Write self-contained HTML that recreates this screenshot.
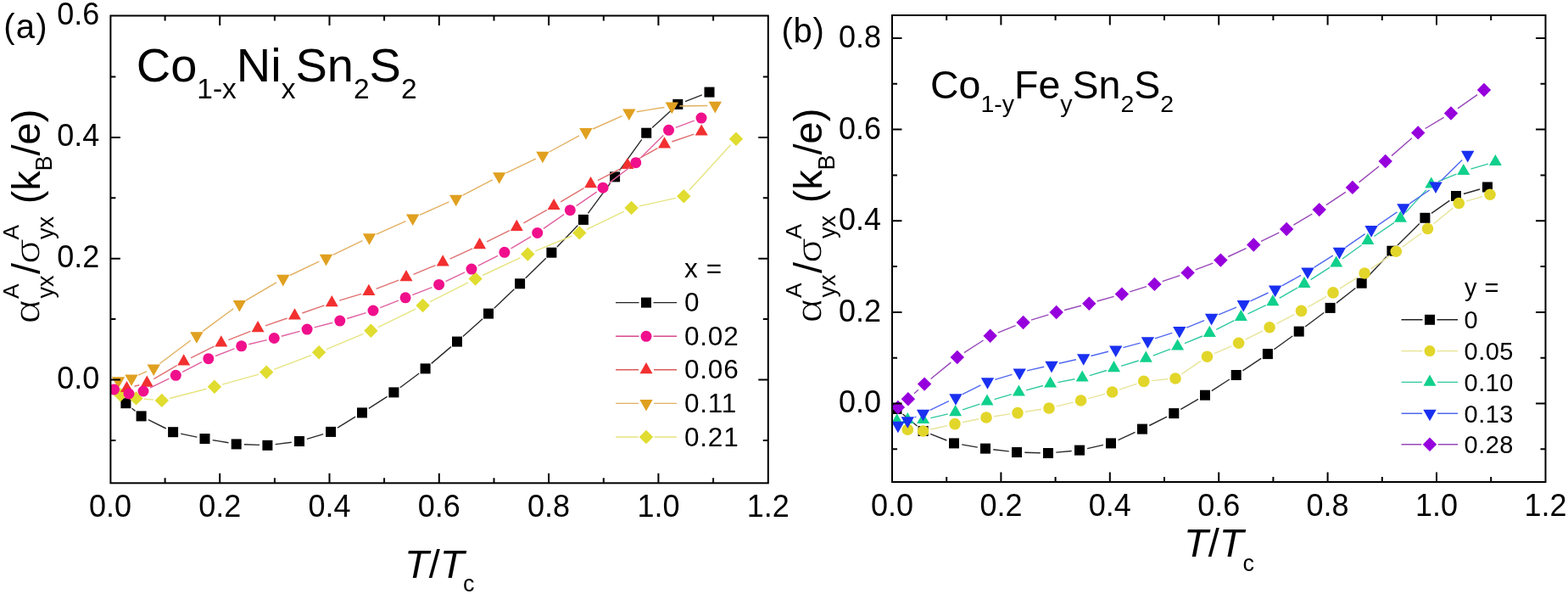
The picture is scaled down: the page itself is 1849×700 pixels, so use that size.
<!DOCTYPE html>
<html><head><meta charset="utf-8"><title>plot</title>
<style>html,body{margin:0;padding:0;background:#fff;}svg{display:block;}text{font-family:'Liberation Sans', Arial, sans-serif;fill:#000;}</style>
</head><body>
<svg width="1849" height="700" viewBox="0 0 1849 700">
<rect width="1849" height="700" fill="#fff"/>
<defs><clipPath id="cl"><rect x="131" y="18.5" width="775" height="550.5"/></clipPath><clipPath id="cr"><rect x="1052.5" y="18" width="770" height="550"/></clipPath></defs>
<g clip-path="url(#cl)">
<path d="M155.5 481.2L159.5 484.4M174.9 494.6L195.8 505M213.2 511.1L232.4 515.1M250.7 518.6L269.5 521.8M288 523.8L306.1 524.4M324.6 523.6L343.8 521.2M361.9 517.3L381.2 511.6M398 504.1L419.1 491.2M434.8 481.4L456.6 467.4M471.8 456.8L494.2 440M508.7 428.4L531.9 408.6M545.9 396.4L569.1 375.8M582.7 363.2L606.4 340.7M619.7 327.8L643.8 304.2M656.9 291L681.4 265.6M693.4 251.4L719.6 215.9M730.5 200.8L756.8 164.3M769.1 150.4L792.4 129.2M808 119.6L827.8 111.9" fill="none" stroke="#2a2a2a" stroke-width="1.4"/>
<rect x="142.4" y="469.2" width="12" height="12" fill="#000000" />
<rect x="160.6" y="484.4" width="12" height="12" fill="#000000" />
<rect x="198.1" y="503.2" width="12" height="12" fill="#000000" />
<rect x="235.5" y="511" width="12" height="12" fill="#000000" />
<rect x="272.7" y="517.4" width="12" height="12" fill="#000000" />
<rect x="309.4" y="518.8" width="12" height="12" fill="#000000" />
<rect x="347" y="514" width="12" height="12" fill="#000000" />
<rect x="384.1" y="502.9" width="12" height="12" fill="#000000" />
<rect x="421" y="480.4" width="12" height="12" fill="#000000" />
<rect x="458.4" y="456.4" width="12" height="12" fill="#000000" />
<rect x="495.6" y="428.4" width="12" height="12" fill="#000000" />
<rect x="533" y="396.6" width="12" height="12" fill="#000000" />
<rect x="570" y="363.6" width="12" height="12" fill="#000000" />
<rect x="607.1" y="328.3" width="12" height="12" fill="#000000" />
<rect x="644.4" y="291.7" width="12" height="12" fill="#000000" />
<rect x="681.9" y="252.9" width="12" height="12" fill="#000000" />
<rect x="719.1" y="202.4" width="12" height="12" fill="#000000" />
<rect x="756.2" y="150.7" width="12" height="12" fill="#000000" />
<rect x="793.3" y="116.9" width="12" height="12" fill="#000000" />
<rect x="830.5" y="102.6" width="12" height="12" fill="#000000" />
<path d="M170 470.2L181.3 471.1M200 469.5L243.7 458.2M262 453.2L305.1 441.2M323.1 435.3L367.2 418.6M384.9 411.6L428.6 393.4M445.9 385.6L490.1 364.1M507.1 355.7L552.1 332.9M569.2 324.5L613.7 303.6M631.1 295.9L674.5 278M691.9 270.3L736 249.1M753.9 242.9L797 233.4M812.7 224.3L861.6 170.7" fill="none" stroke="#e6e480" stroke-width="1.4"/>
<path d="M142 457.1L150.2 465.3L142 473.5L133.8 465.3Z" fill="#e0dc30" />
<path d="M160.5 461.2L168.7 469.4L160.5 477.6L152.3 469.4Z" fill="#e0dc30" />
<path d="M190.8 463.7L199 471.9L190.8 480.1L182.6 471.9Z" fill="#e0dc30" />
<path d="M252.9 447.6L261.1 455.8L252.9 464L244.7 455.8Z" fill="#e0dc30" />
<path d="M314.2 430.4L322.4 438.6L314.2 446.8L306 438.6Z" fill="#e0dc30" />
<path d="M376.1 407.1L384.3 415.3L376.1 423.5L367.9 415.3Z" fill="#e0dc30" />
<path d="M437.4 381.5L445.6 389.7L437.4 397.9L429.2 389.7Z" fill="#e0dc30" />
<path d="M498.6 351.8L506.8 360L498.6 368.2L490.4 360Z" fill="#e0dc30" />
<path d="M560.6 320.4L568.8 328.6L560.6 336.8L552.4 328.6Z" fill="#e0dc30" />
<path d="M622.3 291.3L630.5 299.5L622.3 307.7L614.1 299.5Z" fill="#e0dc30" />
<path d="M683.3 266.2L691.5 274.4L683.3 282.6L675.1 274.4Z" fill="#e0dc30" />
<path d="M744.6 236.8L752.8 245L744.6 253.2L736.4 245Z" fill="#e0dc30" />
<path d="M806.3 223.1L814.5 231.3L806.3 239.5L798.1 231.3Z" fill="#e0dc30" />
<path d="M868 155.5L876.2 163.7L868 171.9L859.8 163.7Z" fill="#e0dc30" />
<path d="M163.2 442.2L173 437.7M188.4 428.5L224.7 401.2M239.1 390.4L275.2 363.8M290.2 353.9L326 332.9M341.9 324.5L376.4 308.2M392.6 300.4L427.4 283.7M443.7 276.1L478.5 260.7M494.9 253.4L529.5 237.9M545.7 230.1L580.7 211.9M596.8 203.9L631.8 187.1M647.8 179L683 159.9M699.1 152L733.6 136.7M750.7 131.7L783.4 126.5M801.3 125L834.3 124.5" fill="none" stroke="#e2b060" stroke-width="1.4"/>
<path d="M131.8 444.2H147.2L139.5 457.8Z" fill="#e0a020" />
<path d="M147.3 441.4H162.7L155 455Z" fill="#e0a020" />
<path d="M173.5 429.4H188.9L181.2 443Z" fill="#e0a020" />
<path d="M224.2 391.2H239.6L231.9 404.8Z" fill="#e0a020" />
<path d="M274.7 353.9H290.1L282.4 367.5Z" fill="#e0a020" />
<path d="M326.1 323.8H341.5L333.8 337.4Z" fill="#e0a020" />
<path d="M376.8 299.8H392.2L384.5 313.4Z" fill="#e0a020" />
<path d="M427.8 275.2H443.2L435.5 288.8Z" fill="#e0a020" />
<path d="M479 252.5H494.4L486.7 266.1Z" fill="#e0a020" />
<path d="M530 229.7H545.4L537.7 243.3Z" fill="#e0a020" />
<path d="M581 203.2H596.4L588.7 216.8Z" fill="#e0a020" />
<path d="M632.2 178.7H647.6L639.9 192.3Z" fill="#e0a020" />
<path d="M683.2 151.1H698.6L690.9 164.7Z" fill="#e0a020" />
<path d="M734.1 128.5H749.5L741.8 142.1Z" fill="#e0a020" />
<path d="M784.6 120.6H800L792.3 134.2Z" fill="#e0a020" />
<path d="M835.6 119.8H851L843.3 133.4Z" fill="#e0a020" />
<path d="M158.5 455.3L164.3 453.8M181.3 446.7L208.7 430.7M225 421.8L252.5 408.2M269.4 400.6L295.5 390.3M312.9 383.9L338.7 375M356.3 369L382.5 359.8M400.2 354.1L426 346.3M443.6 340.3L470.3 330.2M487.6 323.4L513.6 312.6M530.6 305.2L557.2 292.8M574 284.8L600.9 271.6M617.4 262.9L645 247.3M661.1 237.9L688.6 221.6M704.9 212.6L731.7 198.8M748.1 190L775.4 174.6M792.3 167L818.4 158.2" fill="none" stroke="#e07070" stroke-width="1.4"/>
<path d="M142 462.1H157L149.5 448.9Z" fill="#f23030" />
<path d="M165.8 455.8H180.8L173.3 442.6Z" fill="#f23030" />
<path d="M209.2 430.4H224.2L216.7 417.2Z" fill="#f23030" />
<path d="M253.3 408.4H268.3L260.8 395.2Z" fill="#f23030" />
<path d="M296.6 391.3H311.6L304.1 378.1Z" fill="#f23030" />
<path d="M340 376.4H355L347.5 363.2Z" fill="#f23030" />
<path d="M383.8 361.2H398.8L391.3 348Z" fill="#f23030" />
<path d="M427.4 348H442.4L434.9 334.8Z" fill="#f23030" />
<path d="M471.5 331.3H486.5L479 318.1Z" fill="#f23030" />
<path d="M514.7 313.5H529.7L522.2 300.3Z" fill="#f23030" />
<path d="M558.1 293.3H573.1L565.6 280.1Z" fill="#f23030" />
<path d="M601.8 271.9H616.8L609.3 258.7Z" fill="#f23030" />
<path d="M645.6 247.1H660.6L653.1 233.9Z" fill="#f23030" />
<path d="M689.1 221.2H704.1L696.6 208Z" fill="#f23030" />
<path d="M732.5 199H747.5L740 185.8Z" fill="#f23030" />
<path d="M776 174.4H791L783.5 161.2Z" fill="#f23030" />
<path d="M819.7 159.6H834.7L827.2 146.4Z" fill="#f23030" />
<path d="M176.9 457.1L199.4 446.2M215.1 438.3L238 426.7M254 419.6L276.5 410.9M293.3 405.7L314.7 400.6M331.8 396.2L353.6 390.4M370.6 385.9L392.3 380.3M409.2 375.5L431.6 368.6M448.2 362.7L469.9 354.1M486.3 347.6L509.4 338.6M525.5 331.6L548.1 320.9M563.8 313.1L587.1 301.3M602.5 292.8L626.1 278.9M640.9 269.4L665.1 252.7M679.6 242.7L703.7 226.2M718 215.9L742.8 197M756 185.5L782.3 159.5M796.8 150.3L818.7 142.1" fill="none" stroke="#e060a0" stroke-width="1.4"/>
<circle cx="134.5" cy="459" r="6.5" fill="#f0108c" />
<circle cx="152" cy="464" r="6.5" fill="#f0108c" />
<circle cx="169" cy="461" r="6.5" fill="#f0108c" />
<circle cx="207.3" cy="442.3" r="6.5" fill="#f0108c" />
<circle cx="245.8" cy="422.7" r="6.5" fill="#f0108c" />
<circle cx="284.7" cy="407.8" r="6.5" fill="#f0108c" />
<circle cx="323.3" cy="398.5" r="6.5" fill="#f0108c" />
<circle cx="362.1" cy="388.1" r="6.5" fill="#f0108c" />
<circle cx="400.8" cy="378.1" r="6.5" fill="#f0108c" />
<circle cx="440" cy="366" r="6.5" fill="#f0108c" />
<circle cx="478.1" cy="350.8" r="6.5" fill="#f0108c" />
<circle cx="517.6" cy="335.4" r="6.5" fill="#f0108c" />
<circle cx="556" cy="317.1" r="6.5" fill="#f0108c" />
<circle cx="594.9" cy="297.3" r="6.5" fill="#f0108c" />
<circle cx="633.7" cy="274.4" r="6.5" fill="#f0108c" />
<circle cx="672.3" cy="247.7" r="6.5" fill="#f0108c" />
<circle cx="711" cy="221.2" r="6.5" fill="#f0108c" />
<circle cx="749.8" cy="191.7" r="6.5" fill="#f0108c" />
<circle cx="788.5" cy="153.3" r="6.5" fill="#f0108c" />
<circle cx="827" cy="139.1" r="6.5" fill="#f0108c" />
</g><g clip-path="url(#cr)">
<path d="M1064.6 488L1081.5 502M1097.2 511.4L1116.4 519M1134.2 523.9L1152.8 527.1M1171.2 529.7L1189.8 531.9M1208.3 533.3L1226.7 533.7M1245.3 533.1L1263.7 531.5M1282.1 528.6L1300.9 524.4M1318.5 518.6L1338.5 509.4M1355.3 501.5L1376 491.2M1392.3 482.4L1413 470.4M1428.8 460.7L1449.9 447M1465.4 436.8L1487.2 422.3M1502.4 411.7L1524.2 396M1539.1 385L1561.2 368.5M1575.9 357.1L1598.4 339.5M1612.1 326.9L1635 302.5M1648 289.1L1673.8 263.4M1688 251.4L1709.4 236.4M1725.9 228.5L1745.1 223" fill="none" stroke="#2a2a2a" stroke-width="1.4"/>
<rect x="1051.5" y="476" width="12" height="12" fill="#000000" />
<rect x="1082.6" y="502" width="12" height="12" fill="#000000" />
<rect x="1119" y="516.4" width="12" height="12" fill="#000000" />
<rect x="1156" y="522.6" width="12" height="12" fill="#000000" />
<rect x="1193" y="527" width="12" height="12" fill="#000000" />
<rect x="1230" y="528" width="12" height="12" fill="#000000" />
<rect x="1267" y="524.6" width="12" height="12" fill="#000000" />
<rect x="1304" y="516.4" width="12" height="12" fill="#000000" />
<rect x="1341" y="499.6" width="12" height="12" fill="#000000" />
<rect x="1378.3" y="481.1" width="12" height="12" fill="#000000" />
<rect x="1415" y="459.7" width="12" height="12" fill="#000000" />
<rect x="1451.7" y="436" width="12" height="12" fill="#000000" />
<rect x="1488.9" y="411.1" width="12" height="12" fill="#000000" />
<rect x="1525.7" y="384.6" width="12" height="12" fill="#000000" />
<rect x="1562.6" y="356.9" width="12" height="12" fill="#000000" />
<rect x="1599.7" y="327.7" width="12" height="12" fill="#000000" />
<rect x="1635.4" y="289.7" width="12" height="12" fill="#000000" />
<rect x="1674.4" y="250.8" width="12" height="12" fill="#000000" />
<rect x="1711" y="225" width="12" height="12" fill="#000000" />
<rect x="1748" y="214.5" width="12" height="12" fill="#000000" />
<path d="M1097.4 506L1117.2 501.6M1134.8 497.8L1154.2 493.8M1171.9 490.7L1191.1 487.9M1208.9 485.3L1228.1 482.3M1245.8 478.9L1265.8 474.1M1283.3 469.7L1302.9 464.3M1320.1 459.1L1340.3 452.3M1357.8 448.6L1377 446.8M1393.4 440.9L1416.1 425.3M1431.8 416.7L1452.3 407.8M1468.6 400.2L1489.1 389.8M1505.1 381.6L1526.5 370.5M1542.3 361.9L1564.2 349.4M1579.7 340.2L1601.4 326.7M1616.5 316.9L1638.9 301.4M1653.6 291L1676.2 274.8M1690.5 263.8L1713.3 245.2M1729 237.1L1748.3 231.6" fill="none" stroke="#e8e49a" stroke-width="1.4"/>
<circle cx="1070.3" cy="506.3" r="6.8" fill="#e2d62a" />
<circle cx="1088.6" cy="508" r="6.8" fill="#e2d62a" />
<circle cx="1126" cy="499.6" r="6.8" fill="#e2d62a" />
<circle cx="1163" cy="492" r="6.8" fill="#e2d62a" />
<circle cx="1200" cy="486.6" r="6.8" fill="#e2d62a" />
<circle cx="1237" cy="481" r="6.8" fill="#e2d62a" />
<circle cx="1274.6" cy="472" r="6.8" fill="#e2d62a" />
<circle cx="1311.6" cy="462" r="6.8" fill="#e2d62a" />
<circle cx="1348.8" cy="449.4" r="6.8" fill="#e2d62a" />
<circle cx="1386" cy="446" r="6.8" fill="#e2d62a" />
<circle cx="1423.5" cy="420.2" r="6.8" fill="#e2d62a" />
<circle cx="1460.6" cy="404.3" r="6.8" fill="#e2d62a" />
<circle cx="1497.1" cy="385.7" r="6.8" fill="#e2d62a" />
<circle cx="1534.5" cy="366.4" r="6.8" fill="#e2d62a" />
<circle cx="1572" cy="344.9" r="6.8" fill="#e2d62a" />
<circle cx="1609.1" cy="322" r="6.8" fill="#e2d62a" />
<circle cx="1646.3" cy="296.3" r="6.8" fill="#e2d62a" />
<circle cx="1683.5" cy="269.5" r="6.8" fill="#e2d62a" />
<circle cx="1720.3" cy="239.5" r="6.8" fill="#e2d62a" />
<circle cx="1757" cy="229.2" r="6.8" fill="#e2d62a" />
<path d="M1097.4 492.6L1117.8 487.9M1135.1 482.9L1155.5 476.1M1172.6 470.7L1192.8 464.7M1210.1 459.9L1229.9 454.5M1247.4 450.6L1267.4 446.8M1284.8 442.6L1304.9 436.5M1322.1 431.3L1342.7 425M1359.7 419.2L1380.2 411.4M1396.9 404.7L1418 396M1434.3 388.4L1455.4 377.7M1471.5 369.8L1492.8 359.7M1508.7 351.4L1530.2 339M1545.6 329.6L1568.1 315.1M1583 305L1605.6 288.8M1620.3 278.5L1644 262.4M1657.4 250.6L1681.8 223.9M1696.1 213.8L1717.5 205.1M1734.4 199.2L1754.8 193.2" fill="none" stroke="#30c8a0" stroke-width="1.4"/>
<path d="M1050.2 500.4H1065.2L1057.7 487.2Z" fill="#10d08c" />
<path d="M1062.8 499.1H1077.8L1070.3 485.9Z" fill="#10d08c" />
<path d="M1081.1 499.1H1096.1L1088.6 485.9Z" fill="#10d08c" />
<path d="M1119.1 490.2H1134.1L1126.6 477Z" fill="#10d08c" />
<path d="M1156.5 477.6H1171.5L1164 464.4Z" fill="#10d08c" />
<path d="M1193.9 466.6H1208.9L1201.4 453.4Z" fill="#10d08c" />
<path d="M1231.1 456.6H1246.1L1238.6 443.4Z" fill="#10d08c" />
<path d="M1268.7 449.6H1283.7L1276.2 436.4Z" fill="#10d08c" />
<path d="M1306 438.3H1321L1313.5 425.1Z" fill="#10d08c" />
<path d="M1343.8 426.8H1358.8L1351.3 413.6Z" fill="#10d08c" />
<path d="M1381.1 412.6H1396.1L1388.6 399.4Z" fill="#10d08c" />
<path d="M1418.8 396.9H1433.8L1426.3 383.7Z" fill="#10d08c" />
<path d="M1455.9 378H1470.9L1463.4 364.8Z" fill="#10d08c" />
<path d="M1493.4 360.3H1508.4L1500.9 347.1Z" fill="#10d08c" />
<path d="M1530.5 338.9H1545.5L1538 325.7Z" fill="#10d08c" />
<path d="M1568.2 314.6H1583.2L1575.7 301.4Z" fill="#10d08c" />
<path d="M1605.4 288H1620.4L1612.9 274.8Z" fill="#10d08c" />
<path d="M1643.9 261.7H1658.9L1651.4 248.5Z" fill="#10d08c" />
<path d="M1680.3 221.6H1695.3L1687.8 208.4Z" fill="#10d08c" />
<path d="M1718.3 206.1H1733.3L1725.8 192.9Z" fill="#10d08c" />
<path d="M1755.9 195.1H1770.9L1763.4 181.9Z" fill="#10d08c" />
<path d="M1078.5 492L1080.4 491M1096.7 483.3L1118.9 472.6M1135 464.7L1156.5 453.8M1173.2 447.3L1193.5 441.4M1211 436.9L1231.2 432.3M1248.8 428.3L1268.9 423.7M1286.4 419.5L1307 414.3M1324.4 409.7L1344.7 404.1M1361.9 398.9L1382.3 392.3M1399.2 386.1L1420.2 377.7M1436.9 370.9L1458 362.1M1474.5 354.8L1495.5 345M1511.6 336.8L1534.1 324.4M1549.6 315.2L1571.8 301.2M1586.8 291.3L1609.7 275.7M1624.5 265.6L1647.5 249.9M1662.3 239.8L1685.6 224M1699.5 212.7L1724.2 188.6" fill="none" stroke="#5068f0" stroke-width="1.4"/>
<path d="M1051.2 496.7H1066.6L1058.9 510.3Z" fill="#1a30f0" />
<path d="M1062.6 491.2H1078L1070.3 504.8Z" fill="#1a30f0" />
<path d="M1080.9 482.7H1096.3L1088.6 496.3Z" fill="#1a30f0" />
<path d="M1119.3 464.2H1134.7L1127 477.8Z" fill="#1a30f0" />
<path d="M1156.8 445.2H1172.2L1164.5 458.8Z" fill="#1a30f0" />
<path d="M1194.5 434.4H1209.9L1202.2 448Z" fill="#1a30f0" />
<path d="M1232.3 425.8H1247.7L1240 439.4Z" fill="#1a30f0" />
<path d="M1270 417.2H1285.4L1277.7 430.8Z" fill="#1a30f0" />
<path d="M1308 407.5H1323.4L1315.7 421.1Z" fill="#1a30f0" />
<path d="M1345.7 397.2H1361.1L1353.4 410.8Z" fill="#1a30f0" />
<path d="M1383.1 384.9H1398.5L1390.8 398.5Z" fill="#1a30f0" />
<path d="M1420.9 369.8H1436.3L1428.6 383.4Z" fill="#1a30f0" />
<path d="M1458.6 354.1H1474L1466.3 367.7Z" fill="#1a30f0" />
<path d="M1496 336.6H1511.4L1503.7 350.2Z" fill="#1a30f0" />
<path d="M1534.3 315.5H1549.7L1542 329.1Z" fill="#1a30f0" />
<path d="M1571.7 291.8H1587.1L1579.4 305.4Z" fill="#1a30f0" />
<path d="M1609.4 266.1H1624.8L1617.1 279.7Z" fill="#1a30f0" />
<path d="M1647.2 240.3H1662.6L1654.9 253.9Z" fill="#1a30f0" />
<path d="M1685.3 214.4H1700.7L1693 228Z" fill="#1a30f0" />
<path d="M1723 177.8H1738.4L1730.7 191.4Z" fill="#1a30f0" />
<path d="M1078 463.7L1083 459.2M1097.6 446.5L1121.3 427.1M1136.9 415.7L1159.6 401M1176.7 392.1L1197.6 383.6M1215.9 377.2L1236.4 370.8M1255.1 365.5L1274.9 360.2M1293.6 355L1313.6 349.3M1332.2 343.8L1352.1 337.7M1370.6 331.7L1391.4 324.6M1409.7 317.9L1430.3 310.1M1448.2 302.5L1469.5 292.6M1487.1 284.3L1508.3 274.2M1525.4 265.1L1547.4 252M1563.8 241.7L1586.8 226.3M1602.5 214.9L1626.1 196M1641 183.6L1664.9 162.8M1680.6 151.5L1702.6 138.4M1718.9 127.9L1742.1 111.6" fill="none" stroke="#9848b8" stroke-width="1.4"/>
<path d="M1058.9 471.8L1067.1 480L1058.9 488.2L1050.7 480Z" fill="#9600dc" />
<path d="M1070.9 462.1L1079.1 470.3L1070.9 478.5L1062.7 470.3Z" fill="#9600dc" />
<path d="M1090.1 444.4L1098.3 452.6L1090.1 460.8L1081.9 452.6Z" fill="#9600dc" />
<path d="M1128.8 412.8L1137 421L1128.8 429.2L1120.6 421Z" fill="#9600dc" />
<path d="M1167.7 387.5L1175.9 395.7L1167.7 403.9L1159.5 395.7Z" fill="#9600dc" />
<path d="M1206.6 371.8L1214.8 380L1206.6 388.2L1198.4 380Z" fill="#9600dc" />
<path d="M1245.7 359.8L1253.9 368L1245.7 376.2L1237.5 368Z" fill="#9600dc" />
<path d="M1284.3 349.5L1292.5 357.7L1284.3 365.9L1276.1 357.7Z" fill="#9600dc" />
<path d="M1322.9 338.4L1331.1 346.6L1322.9 354.8L1314.7 346.6Z" fill="#9600dc" />
<path d="M1361.4 326.7L1369.6 334.9L1361.4 343.1L1353.2 334.9Z" fill="#9600dc" />
<path d="M1400.6 313.2L1408.8 321.4L1400.6 329.6L1392.4 321.4Z" fill="#9600dc" />
<path d="M1439.4 298.4L1447.6 306.6L1439.4 314.8L1431.2 306.6Z" fill="#9600dc" />
<path d="M1478.3 280.3L1486.5 288.5L1478.3 296.7L1470.1 288.5Z" fill="#9600dc" />
<path d="M1517.1 261.8L1525.3 270L1517.1 278.2L1508.9 270Z" fill="#9600dc" />
<path d="M1555.7 238.9L1563.9 247.1L1555.7 255.3L1547.5 247.1Z" fill="#9600dc" />
<path d="M1594.9 212.7L1603.1 220.9L1594.9 229.1L1586.7 220.9Z" fill="#9600dc" />
<path d="M1633.7 181.8L1641.9 190L1633.7 198.2L1625.5 190Z" fill="#9600dc" />
<path d="M1672.2 148.2L1680.4 156.4L1672.2 164.6L1664 156.4Z" fill="#9600dc" />
<path d="M1711 125.3L1719.2 133.5L1711 141.7L1702.8 133.5Z" fill="#9600dc" />
<path d="M1750 97.8L1758.2 106L1750 114.2L1741.8 106Z" fill="#9600dc" />
</g>
<rect x="130.4" y="18.5" width="775.4" height="550.8" fill="none" stroke="#000" stroke-width="2"/>
<path d="M259.2 569.3v-11.5M259.2 18.5v11.5M388.5 569.3v-11.5M388.5 18.5v11.5M517.8 569.3v-11.5M517.8 18.5v11.5M647.1 569.3v-11.5M647.1 18.5v11.5M776.4 569.3v-11.5M776.4 18.5v11.5M194.6 569.3v-6M194.6 18.5v6M323.9 569.3v-6M323.9 18.5v6M453.1 569.3v-6M453.1 18.5v6M582.5 569.3v-6M582.5 18.5v6M711.8 569.3v-6M711.8 18.5v6M841.1 569.3v-6M841.1 18.5v6M130.4 304.7h11.5M905.8 304.7h-11.5M130.4 161.9h11.5M905.8 161.9h-11.5M130.4 447.5h11.5M905.8 447.5h-11.5M130.4 376.1h6M905.8 376.1h-6M130.4 233.3h6M905.8 233.3h-6M130.4 90.5h6M905.8 90.5h-6M130.4 518.9h6M905.8 518.9h-6" stroke="#000" stroke-width="2" fill="none"/>
<rect x="1052" y="18" width="770.5" height="550" fill="none" stroke="#000" stroke-width="2"/>
<path d="M1180.4 568v-11.5M1180.4 18v11.5M1308.8 568v-11.5M1308.8 18v11.5M1437.2 568v-11.5M1437.2 18v11.5M1565.6 568v-11.5M1565.6 18v11.5M1694 568v-11.5M1694 18v11.5M1116.2 568v-6M1116.2 18v6M1244.6 568v-6M1244.6 18v6M1373 568v-6M1373 18v6M1501.4 568v-6M1501.4 18v6M1629.8 568v-6M1629.8 18v6M1758.2 568v-6M1758.2 18v6M1052 475.5h11.5M1822.5 475.5h-11.5M1052 367.9h11.5M1822.5 367.9h-11.5M1052 260.2h11.5M1822.5 260.2h-11.5M1052 152.6h11.5M1822.5 152.6h-11.5M1052 44.9h11.5M1822.5 44.9h-11.5M1052 529.3h6M1822.5 529.3h-6M1052 421.7h6M1822.5 421.7h-6M1052 314h6M1822.5 314h-6M1052 206.4h6M1822.5 206.4h-6M1052 98.8h6M1822.5 98.8h-6" stroke="#000" stroke-width="2" fill="none"/>
<text x="807" y="327.4" font-size="31.5" letter-spacing="0.6">x =</text>
<path d="M726 356.6H753.5M770.5 356.6H798" stroke="#222" stroke-width="1.4" fill="none"/>
<rect x="756" y="350.6" width="12" height="12" fill="#000000" />
<text x="807" y="367.1" font-size="31.5" letter-spacing="0.8">0</text>
<path d="M726 396.3H753.5M770.5 396.3H798" stroke="#d84a90" stroke-width="1.4" fill="none"/>
<circle cx="762" cy="396.3" r="6.5" fill="#f0108c" />
<text x="807" y="406.8" font-size="31.5" letter-spacing="0.8">0.02</text>
<path d="M726 435.8H753M771 435.8H798" stroke="#dc5a5a" stroke-width="1.4" fill="none"/>
<path d="M754.5 440.2H769.5L762 427Z" fill="#f23030" />
<text x="807" y="446.3" font-size="31.5" letter-spacing="0.8">0.06</text>
<path d="M726 475.4H753M771 475.4H798" stroke="#e2b060" stroke-width="1.4" fill="none"/>
<path d="M754.3 470.9H769.7L762 484.4Z" fill="#e0a020" />
<text x="807" y="485.9" font-size="31.5" letter-spacing="0.8">0.11</text>
<path d="M726 515H752.5M771.5 515H798" stroke="#e6e480" stroke-width="1.4" fill="none"/>
<path d="M762 506.8L770.2 515L762 523.2L753.8 515Z" fill="#e0dc30" />
<text x="807" y="525.5" font-size="31.5" letter-spacing="0.8">0.21</text>
<text x="1727" y="349" font-size="29" letter-spacing="0.5">y =</text>
<path d="M1652.5 376.8H1677.5M1694.5 376.8H1719" stroke="#222" stroke-width="1.4" fill="none"/>
<rect x="1680" y="370.8" width="12" height="12" fill="#000000" />
<text x="1726.5" y="387.3" font-size="29" letter-spacing="0.5">0</text>
<path d="M1652.5 413.6H1677.5M1694.5 413.6H1719" stroke="#e6e290" stroke-width="1.4" fill="none"/>
<circle cx="1686" cy="413.6" r="6.5" fill="#e2d62a" />
<text x="1726.5" y="424.1" font-size="29" letter-spacing="0.5">0.05</text>
<path d="M1652.5 450.4H1677M1695 450.4H1719" stroke="#30c8a0" stroke-width="1.4" fill="none"/>
<path d="M1678.5 454.8H1693.5L1686 441.6Z" fill="#10d08c" />
<text x="1726.5" y="460.9" font-size="29" letter-spacing="0.5">0.10</text>
<path d="M1652.5 487.3H1677M1695 487.3H1719" stroke="#5068f0" stroke-width="1.4" fill="none"/>
<path d="M1678.3 482.8H1693.7L1686 496.3Z" fill="#1a30f0" />
<text x="1726.5" y="497.8" font-size="29" letter-spacing="0.5">0.13</text>
<path d="M1652.5 523.8H1676.3M1695.7 523.8H1719" stroke="#9848b8" stroke-width="1.4" fill="none"/>
<path d="M1686 515.6L1694.2 523.8L1686 532L1677.8 523.8Z" fill="#9600dc" />
<text x="1726.5" y="534.3" font-size="29" letter-spacing="0.5">0.28</text>
<text x="117.3" y="29.3" font-size="36" text-anchor="end">0.6</text>
<text x="117.3" y="172.1" font-size="36" text-anchor="end">0.4</text>
<text x="117.3" y="314.9" font-size="36" text-anchor="end">0.2</text>
<text x="117.3" y="457.7" font-size="36" text-anchor="end">0.0</text>
<text x="1039" y="55.8" font-size="36" text-anchor="end">0.8</text>
<text x="1039" y="163.5" font-size="36" text-anchor="end">0.6</text>
<text x="1039" y="271.1" font-size="36" text-anchor="end">0.4</text>
<text x="1039" y="378.8" font-size="36" text-anchor="end">0.2</text>
<text x="1039" y="486.4" font-size="36" text-anchor="end">0.0</text>
<text x="129.9" y="609" font-size="36" text-anchor="middle">0.0</text>
<text x="1052" y="607.7" font-size="36" text-anchor="middle">0.0</text>
<text x="259.2" y="609" font-size="36" text-anchor="middle">0.2</text>
<text x="1180.4" y="607.7" font-size="36" text-anchor="middle">0.2</text>
<text x="388.5" y="609" font-size="36" text-anchor="middle">0.4</text>
<text x="1308.8" y="607.7" font-size="36" text-anchor="middle">0.4</text>
<text x="517.8" y="609" font-size="36" text-anchor="middle">0.6</text>
<text x="1437.2" y="607.7" font-size="36" text-anchor="middle">0.6</text>
<text x="647.1" y="609" font-size="36" text-anchor="middle">0.8</text>
<text x="1565.6" y="607.7" font-size="36" text-anchor="middle">0.8</text>
<text x="776.4" y="609" font-size="36" text-anchor="middle">1.0</text>
<text x="1694" y="607.7" font-size="36" text-anchor="middle">1.0</text>
<text x="905.7" y="609" font-size="36" text-anchor="middle">1.2</text>
<text x="1822.4" y="607.7" font-size="36" text-anchor="middle">1.2</text>
<text x="4.2" y="44.9" font-size="40" letter-spacing="1.2">(a)</text>
<text x="921.4" y="49.7" font-size="40" letter-spacing="0.8">(b)</text>
<text x="160.7" y="96.3" font-size="56">Co<tspan font-size="33.5" dy="20">1-x</tspan><tspan dy="-20">Ni</tspan><tspan font-size="33.5" dy="20">x</tspan><tspan dy="-20">Sn</tspan><tspan font-size="33.5" dy="20">2</tspan><tspan dy="-20">S</tspan><tspan font-size="33.5" dy="20">2</tspan></text>
<text x="1097" y="116" font-size="46.5">Co<tspan font-size="28.5" dy="16.3">1-y</tspan><tspan dy="-16.3">Fe</tspan><tspan font-size="28.5" dy="16.3">y</tspan><tspan dy="-16.3">Sn</tspan><tspan font-size="28.5" dy="16.3">2</tspan><tspan dy="-16.3">S</tspan><tspan font-size="28.5" dy="16.3">2</tspan></text>
<text x="477" y="681" font-size="47"><tspan font-style="italic">T</tspan>/<tspan font-style="italic">T</tspan><tspan font-size="27" dx="-1.5" dy="16.3">c</tspan></text>
<text x="1396" y="656.4" font-size="47"><tspan font-style="italic">T</tspan>/<tspan font-style="italic">T</tspan><tspan font-size="27" dx="-1" dy="16.5">c</tspan></text>
<g transform="translate(46.5,380) rotate(-90)"><text transform="translate(-1.5,0) scale(1.18,1)" font-size="42.5" stroke="#fff" stroke-width="1.1">α</text><text x="28" y="-24.2" font-size="26.5">A</text><text x="28.5" y="16" font-size="27">yx</text><text x="57" y="0" font-size="47">/</text><text transform="translate(68.9,0) scale(1.2,1)" font-size="40.2" stroke="#fff" stroke-width="1.1">σ</text><text x="97.4" y="-24.2" font-size="26.5">A</text><text x="97.9" y="16" font-size="27">yx</text><text x="139.7" y="0" font-size="47">(k</text><text x="178.5" y="14.8" font-size="27">B</text><text x="196.5" y="0" font-size="47">/e)</text></g>
<g transform="translate(968.8,379) rotate(-90)"><text transform="translate(-1.5,0) scale(1.18,1)" font-size="42.5" stroke="#fff" stroke-width="1.1">α</text><text x="28" y="-24.2" font-size="26.5">A</text><text x="28.5" y="16" font-size="27">yx</text><text x="57" y="0" font-size="47">/</text><text transform="translate(68.9,0) scale(1.2,1)" font-size="40.2" stroke="#fff" stroke-width="1.1">σ</text><text x="97.4" y="-24.2" font-size="26.5">A</text><text x="97.9" y="16" font-size="27">yx</text><text x="139.7" y="0" font-size="47">(k</text><text x="178.5" y="14.8" font-size="27">B</text><text x="196.5" y="0" font-size="47">/e)</text></g>
</svg>
</body></html>
